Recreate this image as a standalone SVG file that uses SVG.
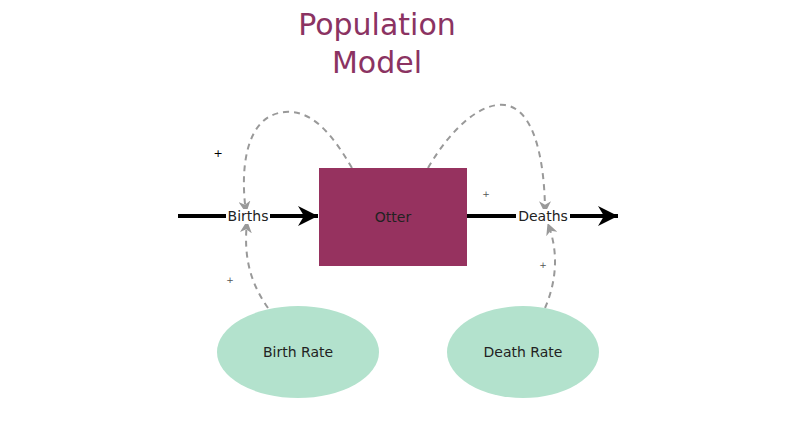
<svg xmlns="http://www.w3.org/2000/svg" width="800" height="422" viewBox="0 0 800 422">
<style>
text{font-family:"DejaVu Sans","Liberation Sans",sans-serif}
.title{font-size:30px;fill:#8b3362;text-anchor:middle}
.lbl{font-size:14px;fill:#222;text-anchor:middle;dominant-baseline:central}
.flow{stroke:#000;stroke-width:4;fill:none}
.link{stroke:#999;stroke-width:2;stroke-dasharray:6,5;fill:none}
.pol{font-size:9px;fill:#555;text-anchor:middle;dominant-baseline:central}
</style>
<defs>
<marker id="fa" viewBox="0 0 10 10" refX="10" refY="5" markerWidth="5" markerHeight="5" orient="auto" markerUnits="strokeWidth"><path d="M0,0 L10,5 L0,10 L3,5 Z" fill="#000"/></marker>
<marker id="la" viewBox="0 0 10 10" refX="9" refY="5" markerWidth="6" markerHeight="6" orient="auto" markerUnits="strokeWidth"><path d="M0,0 L10,5 L0,10 L3,5 Z" fill="#999"/></marker>
</defs>
<g id="title"><text class="title" x="377" y="35">Population</text><text class="title" x="377" y="73">Model</text></g>
<g id="connectors">
<path class="flow" d="M178,216 L318,216" marker-end="url(#fa)"/>
<path class="flow" d="M467,216 L618,216" marker-end="url(#fa)"/>
<path class="link" d="M352,168 C330,130 310,110 285,112 C245,115 240,170 246,212" marker-end="url(#la)"/>
<path class="link" d="M428,168 C450,130 480,102 505,105 C540,110 545,180 545,212" marker-end="url(#la)"/>
<path class="link" d="M268,308 C252,285 243,260 247,222" marker-end="url(#la)"/>
<path class="link" d="M545,308 C555,285 560,255 548,224" marker-end="url(#la)"/>
</g>
<g id="otter"><rect x="319" y="168" width="148" height="98" fill="#96325f"/><text class="lbl" x="393" y="217">Otter</text></g>
<g id="births"><rect x="226" y="209" width="44" height="15" fill="#fff"/><text class="lbl" x="248" y="216">Births</text></g>
<g id="deaths"><rect x="516" y="209" width="54" height="15" fill="#fff"/><text class="lbl" x="543" y="216">Deaths</text></g>
<g id="birthrate"><ellipse cx="298" cy="352" rx="81" ry="46" fill="#b3e2cd"/><text class="lbl" x="298" y="352">Birth Rate</text></g>
<g id="deathrate"><ellipse cx="523" cy="352" rx="76" ry="46" fill="#b3e2cd"/><text class="lbl" x="523" y="352">Death Rate</text></g>
<g id="polarities">
<text class="pol" x="218" y="153" style="font-size:11px;fill:#000">+</text>
<text class="pol" x="486" y="194">+</text>
<text class="pol" x="230" y="280">+</text>
<text class="pol" x="543" y="265">+</text>
</g>
</svg>
